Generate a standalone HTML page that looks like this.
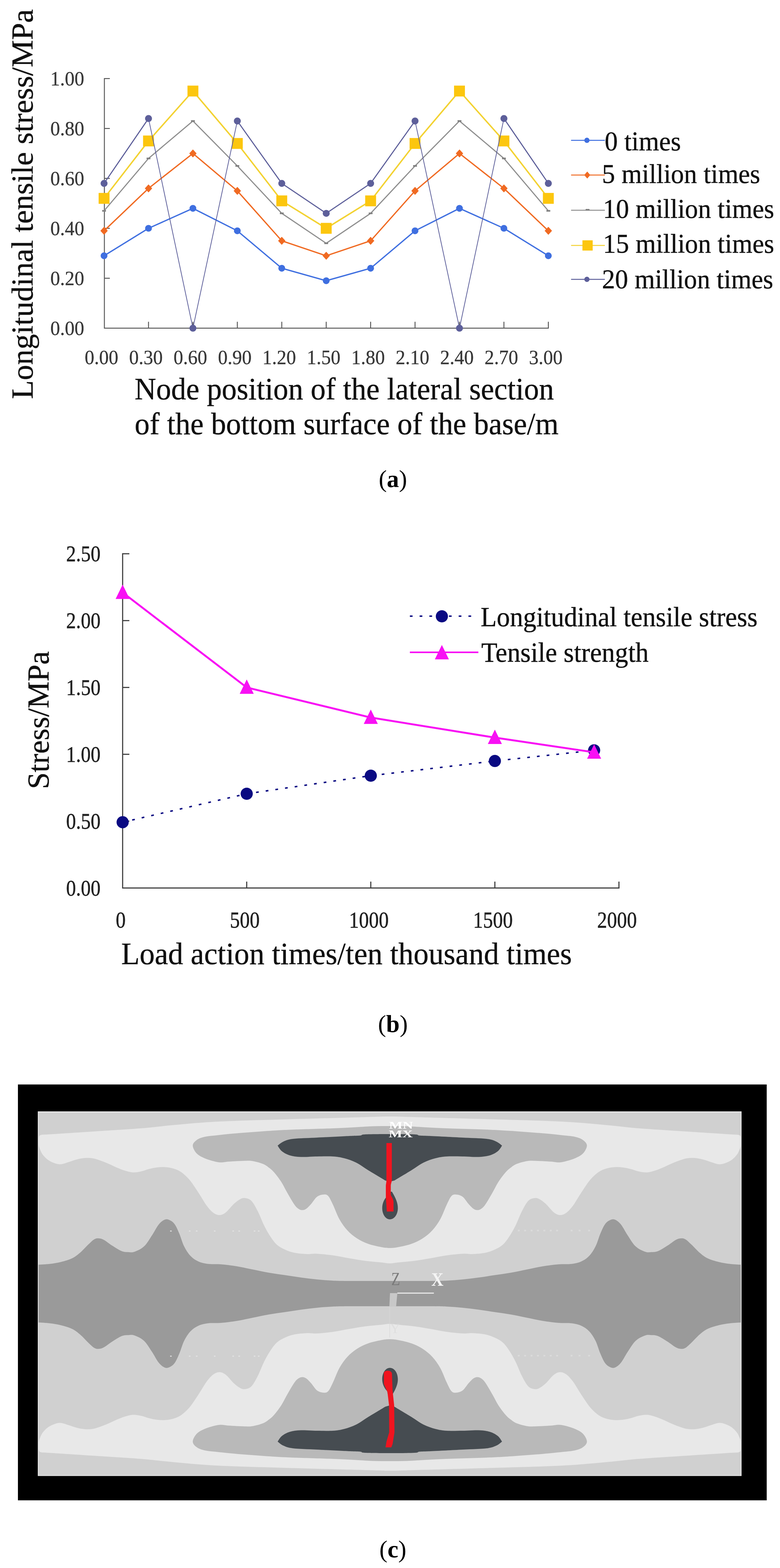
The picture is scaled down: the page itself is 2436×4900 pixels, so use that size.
<!DOCTYPE html>
<html lang="en"><head><meta charset="utf-8"><title>Figure</title>
<style>
html,body{margin:0;padding:0;background:#fff;}
body{width:2436px;height:4900px;overflow:hidden;}
svg{display:block;}
text{font-family:"Liberation Serif","DejaVu Serif",serif;}
</style></head>
<body>
<svg width="2436" height="4900" viewBox="0 0 2436 4900">
<rect x="0" y="0" width="2436" height="4900" fill="#ffffff"/>
<g id="chart-a">
<g stroke="#5c5c5c" stroke-width="3" fill="none">
<path d="M326.0,244.0 V1025.5 H1714.0"/>
<path d="M325.0,869.5 h18"/>
<path d="M325.0,713.5 h18"/>
<path d="M325.0,557.5 h18"/>
<path d="M325.0,401.5 h18"/>
<path d="M325.0,245.5 h18"/>
<path d="M463.8,1025.5 v-20"/>
<path d="M602.5,1025.5 v-20"/>
<path d="M741.2,1025.5 v-20"/>
<path d="M880.0,1025.5 v-20"/>
<path d="M1018.8,1025.5 v-20"/>
<path d="M1157.5,1025.5 v-20"/>
<path d="M1296.2,1025.5 v-20"/>
<path d="M1435.0,1025.5 v-20"/>
<path d="M1573.8,1025.5 v-20"/>
<path d="M1712.5,1025.5 v-20"/>
</g>
<text transform="translate(263.0,1046.5) scale(1,1.060)" font-size="60.5" fill="#383838" text-anchor="end" stroke="#383838" stroke-width="0.50">0.00</text>
<text transform="translate(263.0,890.5) scale(1,1.060)" font-size="60.5" fill="#383838" text-anchor="end" stroke="#383838" stroke-width="0.50">0.20</text>
<text transform="translate(263.0,734.5) scale(1,1.060)" font-size="60.5" fill="#383838" text-anchor="end" stroke="#383838" stroke-width="0.50">0.40</text>
<text transform="translate(263.0,578.5) scale(1,1.060)" font-size="60.5" fill="#383838" text-anchor="end" stroke="#383838" stroke-width="0.50">0.60</text>
<text transform="translate(263.0,422.5) scale(1,1.060)" font-size="60.5" fill="#383838" text-anchor="end" stroke="#383838" stroke-width="0.50">0.80</text>
<text transform="translate(263.0,266.5) scale(1,1.060)" font-size="60.5" fill="#383838" text-anchor="end" stroke="#383838" stroke-width="0.50">1.00</text>
<text transform="translate(317.0,1138.2) scale(1,1.060)" font-size="60.0" fill="#383838" text-anchor="middle" stroke="#383838" stroke-width="0.50">0.00</text>
<text transform="translate(455.8,1138.2) scale(1,1.060)" font-size="60.0" fill="#383838" text-anchor="middle" stroke="#383838" stroke-width="0.50">0.30</text>
<text transform="translate(594.5,1138.2) scale(1,1.060)" font-size="60.0" fill="#383838" text-anchor="middle" stroke="#383838" stroke-width="0.50">0.60</text>
<text transform="translate(733.2,1138.2) scale(1,1.060)" font-size="60.0" fill="#383838" text-anchor="middle" stroke="#383838" stroke-width="0.50">0.90</text>
<text transform="translate(872.0,1138.2) scale(1,1.060)" font-size="60.0" fill="#383838" text-anchor="middle" stroke="#383838" stroke-width="0.50">1.20</text>
<text transform="translate(1010.8,1138.2) scale(1,1.060)" font-size="60.0" fill="#383838" text-anchor="middle" stroke="#383838" stroke-width="0.50">1.50</text>
<text transform="translate(1149.5,1138.2) scale(1,1.060)" font-size="60.0" fill="#383838" text-anchor="middle" stroke="#383838" stroke-width="0.50">1.80</text>
<text transform="translate(1288.2,1138.2) scale(1,1.060)" font-size="60.0" fill="#383838" text-anchor="middle" stroke="#383838" stroke-width="0.50">2.10</text>
<text transform="translate(1427.0,1138.2) scale(1,1.060)" font-size="60.0" fill="#383838" text-anchor="middle" stroke="#383838" stroke-width="0.50">2.40</text>
<text transform="translate(1565.8,1138.2) scale(1,1.060)" font-size="60.0" fill="#383838" text-anchor="middle" stroke="#383838" stroke-width="0.50">2.70</text>
<text transform="translate(1704.5,1138.2) scale(1,1.060)" font-size="60.0" fill="#383838" text-anchor="middle" stroke="#383838" stroke-width="0.50">3.00</text>
<text transform="translate(102.0,1247.0) rotate(-90)" font-size="96.2" fill="#111" stroke="#111" stroke-width="0.60">Longitudinal tensile stress/MPa</text>
<text transform="translate(420.3,1248.2) scale(1,1.050)" font-size="93.4" fill="#111" stroke="#111" stroke-width="0.60">Node position of the lateral section</text>
<text transform="translate(420.5,1357.4) scale(1,1.050)" font-size="93.5" fill="#111" stroke="#111" stroke-width="0.60">of the bottom surface of the base/m</text>
<polyline points="325.0,799.3 463.8,713.5 602.5,651.1 741.2,721.3 880.0,838.3 1018.8,877.3 1157.5,838.3 1296.2,721.3 1435.0,651.1 1573.8,713.5 1712.5,799.3" fill="none" stroke="#3f6fe0" stroke-width="4" stroke-linejoin="round"/>
<circle cx="325.0" cy="799.3" r="10.6" fill="#3f6fe0"/>
<circle cx="463.8" cy="713.5" r="10.6" fill="#3f6fe0"/>
<circle cx="602.5" cy="651.1" r="10.6" fill="#3f6fe0"/>
<circle cx="741.2" cy="721.3" r="10.6" fill="#3f6fe0"/>
<circle cx="880.0" cy="838.3" r="10.6" fill="#3f6fe0"/>
<circle cx="1018.8" cy="877.3" r="10.6" fill="#3f6fe0"/>
<circle cx="1157.5" cy="838.3" r="10.6" fill="#3f6fe0"/>
<circle cx="1296.2" cy="721.3" r="10.6" fill="#3f6fe0"/>
<circle cx="1435.0" cy="651.1" r="10.6" fill="#3f6fe0"/>
<circle cx="1573.8" cy="713.5" r="10.6" fill="#3f6fe0"/>
<circle cx="1712.5" cy="799.3" r="10.6" fill="#3f6fe0"/>
<polyline points="325.0,721.3 463.8,588.7 602.5,479.5 741.2,596.5 880.0,752.5 1018.8,799.3 1157.5,752.5 1296.2,596.5 1435.0,479.5 1573.8,588.7 1712.5,721.3" fill="none" stroke="#f06a22" stroke-width="4" stroke-linejoin="round"/>
<path d="M325.0,709.8 l10.5,11.5 l-10.5,11.5 l-10.5,-11.5 Z" fill="#f06a22" stroke="#f06a22" stroke-width="1.5" stroke-linejoin="round"/>
<path d="M463.8,577.2 l10.5,11.5 l-10.5,11.5 l-10.5,-11.5 Z" fill="#f06a22" stroke="#f06a22" stroke-width="1.5" stroke-linejoin="round"/>
<path d="M602.5,468.0 l10.5,11.5 l-10.5,11.5 l-10.5,-11.5 Z" fill="#f06a22" stroke="#f06a22" stroke-width="1.5" stroke-linejoin="round"/>
<path d="M741.2,585.0 l10.5,11.5 l-10.5,11.5 l-10.5,-11.5 Z" fill="#f06a22" stroke="#f06a22" stroke-width="1.5" stroke-linejoin="round"/>
<path d="M880.0,741.0 l10.5,11.5 l-10.5,11.5 l-10.5,-11.5 Z" fill="#f06a22" stroke="#f06a22" stroke-width="1.5" stroke-linejoin="round"/>
<path d="M1018.8,787.8 l10.5,11.5 l-10.5,11.5 l-10.5,-11.5 Z" fill="#f06a22" stroke="#f06a22" stroke-width="1.5" stroke-linejoin="round"/>
<path d="M1157.5,741.0 l10.5,11.5 l-10.5,11.5 l-10.5,-11.5 Z" fill="#f06a22" stroke="#f06a22" stroke-width="1.5" stroke-linejoin="round"/>
<path d="M1296.2,585.0 l10.5,11.5 l-10.5,11.5 l-10.5,-11.5 Z" fill="#f06a22" stroke="#f06a22" stroke-width="1.5" stroke-linejoin="round"/>
<path d="M1435.0,468.0 l10.5,11.5 l-10.5,11.5 l-10.5,-11.5 Z" fill="#f06a22" stroke="#f06a22" stroke-width="1.5" stroke-linejoin="round"/>
<path d="M1573.8,577.2 l10.5,11.5 l-10.5,11.5 l-10.5,-11.5 Z" fill="#f06a22" stroke="#f06a22" stroke-width="1.5" stroke-linejoin="round"/>
<path d="M1712.5,709.8 l10.5,11.5 l-10.5,11.5 l-10.5,-11.5 Z" fill="#f06a22" stroke="#f06a22" stroke-width="1.5" stroke-linejoin="round"/>
<polyline points="325.0,658.9 463.8,495.1 602.5,378.1 741.2,518.5 880.0,666.7 1018.8,760.3 1157.5,666.7 1296.2,518.5 1435.0,378.1 1573.8,495.1 1712.5,658.9" fill="none" stroke="#8e8e8e" stroke-width="3.5" stroke-linejoin="round"/>
<rect x="319.0" y="656.4" width="12" height="5" fill="#808080"/>
<rect x="457.8" y="492.6" width="12" height="5" fill="#808080"/>
<rect x="596.5" y="375.6" width="12" height="5" fill="#808080"/>
<rect x="735.2" y="516.0" width="12" height="5" fill="#808080"/>
<rect x="874.0" y="664.2" width="12" height="5" fill="#808080"/>
<rect x="1012.8" y="757.8" width="12" height="5" fill="#808080"/>
<rect x="1151.5" y="664.2" width="12" height="5" fill="#808080"/>
<rect x="1290.2" y="516.0" width="12" height="5" fill="#808080"/>
<rect x="1429.0" y="375.6" width="12" height="5" fill="#808080"/>
<rect x="1567.8" y="492.6" width="12" height="5" fill="#808080"/>
<rect x="1706.5" y="656.4" width="12" height="5" fill="#808080"/>
<polyline points="325.0,619.9 463.8,440.5 602.5,284.5 741.2,448.3 880.0,627.7 1018.8,713.5 1157.5,627.7 1296.2,448.3 1435.0,284.5 1573.8,440.5 1712.5,619.9" fill="none" stroke="#f3d232" stroke-width="4.5" stroke-linejoin="round"/>
<rect x="308.0" y="602.9" width="34" height="34" fill="#fcc60e"/>
<rect x="446.8" y="423.5" width="34" height="34" fill="#fcc60e"/>
<rect x="585.5" y="267.5" width="34" height="34" fill="#fcc60e"/>
<rect x="724.2" y="431.3" width="34" height="34" fill="#fcc60e"/>
<rect x="863.0" y="610.7" width="34" height="34" fill="#fcc60e"/>
<rect x="1001.8" y="696.5" width="34" height="34" fill="#fcc60e"/>
<rect x="1140.5" y="610.7" width="34" height="34" fill="#fcc60e"/>
<rect x="1279.2" y="431.3" width="34" height="34" fill="#fcc60e"/>
<rect x="1418.0" y="267.5" width="34" height="34" fill="#fcc60e"/>
<rect x="1556.8" y="423.5" width="34" height="34" fill="#fcc60e"/>
<rect x="1695.5" y="602.9" width="34" height="34" fill="#fcc60e"/>
<path d="M325.0,573.1 L463.8,370.3" fill="none" stroke="#5d5f9a" stroke-width="3.4" stroke-linecap="round"/>
<path d="M463.8,370.3 L602.5,1025.5" fill="none" stroke="#5d5f9a" stroke-width="2.3" stroke-linecap="round"/>
<path d="M602.5,1025.5 L741.2,378.1" fill="none" stroke="#5d5f9a" stroke-width="2.3" stroke-linecap="round"/>
<path d="M741.2,378.1 L880.0,573.1" fill="none" stroke="#5d5f9a" stroke-width="3.4" stroke-linecap="round"/>
<path d="M880.0,573.1 L1018.8,666.7" fill="none" stroke="#5d5f9a" stroke-width="3.4" stroke-linecap="round"/>
<path d="M1018.8,666.7 L1157.5,573.1" fill="none" stroke="#5d5f9a" stroke-width="3.4" stroke-linecap="round"/>
<path d="M1157.5,573.1 L1296.2,378.1" fill="none" stroke="#5d5f9a" stroke-width="3.4" stroke-linecap="round"/>
<path d="M1296.2,378.1 L1435.0,1025.5" fill="none" stroke="#5d5f9a" stroke-width="2.3" stroke-linecap="round"/>
<path d="M1435.0,1025.5 L1573.8,370.3" fill="none" stroke="#5d5f9a" stroke-width="2.3" stroke-linecap="round"/>
<path d="M1573.8,370.3 L1712.5,573.1" fill="none" stroke="#5d5f9a" stroke-width="3.4" stroke-linecap="round"/>
<circle cx="325.0" cy="573.1" r="10.8" fill="#5d5f9a"/>
<circle cx="463.8" cy="370.3" r="10.8" fill="#5d5f9a"/>
<circle cx="602.5" cy="1025.5" r="10.8" fill="#5d5f9a"/>
<circle cx="741.2" cy="378.1" r="10.8" fill="#5d5f9a"/>
<circle cx="880.0" cy="573.1" r="10.8" fill="#5d5f9a"/>
<circle cx="1018.8" cy="666.7" r="10.8" fill="#5d5f9a"/>
<circle cx="1157.5" cy="573.1" r="10.8" fill="#5d5f9a"/>
<circle cx="1296.2" cy="378.1" r="10.8" fill="#5d5f9a"/>
<circle cx="1435.0" cy="1025.5" r="10.8" fill="#5d5f9a"/>
<circle cx="1573.8" cy="370.3" r="10.8" fill="#5d5f9a"/>
<circle cx="1712.5" cy="573.1" r="10.8" fill="#5d5f9a"/>
<path d="M1783.5,438.5 H1889" stroke="#3f6fe0" stroke-width="3.2"/>
<circle cx="1833" cy="438.5" r="8.2" fill="#3f6fe0"/>
<text transform="translate(1888.5,469.5) scale(1,1.040)" font-size="81.6" fill="#111" stroke="#111" stroke-width="0.60">0 times</text>
<path d="M1783.5,547.0 H1889" stroke="#f06a22" stroke-width="3.2"/>
<path d="M1834,536.0 l9.5,11 l-9.5,11 l-9.5,-11 Z" fill="#f06a22"/>
<text transform="translate(1880.0,572.0) scale(1,1.040)" font-size="81.6" fill="#111" stroke="#111" stroke-width="0.60">5 million times</text>
<path d="M1783.5,657.0 H1889" stroke="#8e8e8e" stroke-width="3.2"/>
<rect x="1829" y="653.0" width="12" height="5" fill="#808080"/>
<text transform="translate(1883.0,680.5) scale(1,1.040)" font-size="81.6" fill="#111" stroke="#111" stroke-width="0.60">10 million times</text>
<path d="M1783.5,767.0 H1889" stroke="#f3d232" stroke-width="3.2"/>
<rect x="1819" y="751.0" width="32" height="32" fill="#fcc60e"/>
<text transform="translate(1883.0,790.0) scale(1,1.040)" font-size="81.6" fill="#111" stroke="#111" stroke-width="0.60">15 million times</text>
<path d="M1783.5,873.0 H1889" stroke="#5d5f9a" stroke-width="3.2"/>
<circle cx="1833" cy="873.0" r="8.2" fill="#5d5f9a"/>
<text transform="translate(1880.0,901.0) scale(1,1.040)" font-size="81.6" fill="#111" stroke="#111" stroke-width="0.60">20 million times</text>
<text x="1227" y="1521.5" font-size="76" text-anchor="middle" fill="#000">(<tspan font-weight="bold">a</tspan>)</text>
</g>
<g id="chart-b">
<g stroke="#3c3c3c" stroke-width="3.4" fill="none">
<path d="M383.0,1728.8 V2775.0 H1934.7"/>
<path d="M383.0,2566.1 h21"/>
<path d="M383.0,2357.2 h21"/>
<path d="M383.0,2148.3 h21"/>
<path d="M383.0,1939.4 h21"/>
<path d="M383.0,1730.5 h21"/>
<path d="M770.5,2775.0 v-20"/>
<path d="M1158.0,2775.0 v-20"/>
<path d="M1545.5,2775.0 v-20"/>
<path d="M1933.0,2775.0 v-20"/>
</g>
<text transform="translate(314.0,2798.5) scale(1,1.120)" font-size="61.5" fill="#222" text-anchor="end" stroke="#222" stroke-width="0.70">0.00</text>
<text transform="translate(314.0,2589.6) scale(1,1.120)" font-size="61.5" fill="#222" text-anchor="end" stroke="#222" stroke-width="0.70">0.50</text>
<text transform="translate(314.0,2380.7) scale(1,1.120)" font-size="61.5" fill="#222" text-anchor="end" stroke="#222" stroke-width="0.70">1.00</text>
<text transform="translate(314.0,2171.8) scale(1,1.120)" font-size="61.5" fill="#222" text-anchor="end" stroke="#222" stroke-width="0.70">1.50</text>
<text transform="translate(314.0,1962.9) scale(1,1.120)" font-size="61.5" fill="#222" text-anchor="end" stroke="#222" stroke-width="0.70">2.00</text>
<text transform="translate(314.0,1754.0) scale(1,1.120)" font-size="61.5" fill="#222" text-anchor="end" stroke="#222" stroke-width="0.70">2.50</text>
<text transform="translate(377.0,2898.5) scale(1,1.150)" font-size="62.0" fill="#222" text-anchor="middle" stroke="#222" stroke-width="0.70">0</text>
<text transform="translate(764.5,2898.5) scale(1,1.150)" font-size="62.0" fill="#222" text-anchor="middle" stroke="#222" stroke-width="0.70">500</text>
<text transform="translate(1152.0,2898.5) scale(1,1.150)" font-size="62.0" fill="#222" text-anchor="middle" stroke="#222" stroke-width="0.70">1000</text>
<text transform="translate(1539.5,2898.5) scale(1,1.150)" font-size="62.0" fill="#222" text-anchor="middle" stroke="#222" stroke-width="0.70">1500</text>
<text transform="translate(1927.0,2898.5) scale(1,1.150)" font-size="62.0" fill="#222" text-anchor="middle" stroke="#222" stroke-width="0.70">2000</text>
<text transform="translate(152.0,2466.0) rotate(-90)" font-size="94.6" fill="#111" stroke="#111" stroke-width="0.60">Stress/MPa</text>
<text transform="translate(378.5,3012.8) scale(1,1.040)" font-size="94.2" fill="#111" stroke="#111" stroke-width="0.60">Load action times/ten thousand times</text>
<polyline points="383.0,2569.4 770.5,2480.5 1158.0,2424.0 1545.5,2378.1 1855.5,2344.7" fill="none" stroke="#0a0a82" stroke-width="4.6" stroke-dasharray="8.5 22"/>
<circle cx="383.0" cy="2569.4" r="19" fill="#0a0a82"/>
<circle cx="770.5" cy="2480.5" r="19" fill="#0a0a82"/>
<circle cx="1158.0" cy="2424.0" r="19" fill="#0a0a82"/>
<circle cx="1545.5" cy="2378.1" r="19" fill="#0a0a82"/>
<circle cx="1855.5" cy="2344.7" r="19" fill="#0a0a82"/>
<polyline points="383.0,1851.7 770.5,2148.3 1158.0,2242.3 1545.5,2305.0 1855.5,2350.9" fill="none" stroke="#f810f4" stroke-width="6" stroke-linejoin="round"/>
<path d="M383.0,1826.7 l22,45 h-44 Z" fill="#f810f4"/>
<path d="M770.5,2123.3 l22,45 h-44 Z" fill="#f810f4"/>
<path d="M1158.0,2217.3 l22,45 h-44 Z" fill="#f810f4"/>
<path d="M1545.5,2280.0 l22,45 h-44 Z" fill="#f810f4"/>
<path d="M1855.5,2325.9 l22,45 h-44 Z" fill="#f810f4"/>
<path d="M1280,1925.5 H1475" stroke="#0a0a82" stroke-width="4.6" stroke-dasharray="8.5 22" fill="none"/>
<circle cx="1380" cy="1926" r="19" fill="#0a0a82"/>
<path d="M1280,2038.5 H1494" stroke="#f810f4" stroke-width="5" fill="none"/>
<path d="M1380.0,2015.5 l22,45 h-44 Z" fill="#f810f4"/>
<text transform="translate(1501.0,1956.6) scale(1,1.040)" font-size="82.4" fill="#111" stroke="#111" stroke-width="0.60">Longitudinal tensile stress</text>
<text transform="translate(1503.0,2068.0) scale(1,1.040)" font-size="82.4" fill="#111" stroke="#111" stroke-width="0.60">Tensile strength</text>
<text x="1227" y="3225" font-size="76" text-anchor="middle" fill="#000">(<tspan font-weight="bold">b</tspan>)</text>
</g>
<g id="panel-c">
<rect x="56" y="3389" width="2338.5" height="1299.5" fill="#000"/>
<rect x="118.0" y="3473.0" width="2198.0" height="1139.5" fill="#e2e2e2"/>
<rect x="120.5" y="3477.0" width="2193.0" height="1132.5" fill="#d0d0d0"/>
<clipPath id="cin"><rect x="120.5" y="3477.0" width="2193.0" height="1132.5"/></clipPath>
<g clip-path="url(#cin)">
<g id="half">
<path d="M121.0,3556.0 C122.0,3554.5 120.5,3548.9 127.0,3547.0 C133.5,3545.1 132.8,3546.3 160.0,3544.5 C187.2,3542.7 243.3,3539.1 290.0,3536.0 C336.7,3532.9 398.3,3529.3 440.0,3526.0 C481.7,3522.7 500.0,3519.5 540.0,3516.0 C580.0,3512.5 621.7,3508.0 680.0,3505.0 C738.3,3502.0 813.3,3500.3 890.0,3498.0 C966.7,3495.7 1085.4,3492.5 1140.0,3491.0 C1194.6,3489.5 1191.7,3489.0 1217.5,3489.0 C1243.3,3489.0 1240.4,3489.5 1295.0,3491.0 C1349.6,3492.5 1468.3,3495.7 1545.0,3498.0 C1621.7,3500.3 1696.7,3502.0 1755.0,3505.0 C1813.3,3508.0 1855.0,3512.5 1895.0,3516.0 C1935.0,3519.5 1953.3,3522.7 1995.0,3526.0 C2036.7,3529.3 2098.3,3532.9 2145.0,3536.0 C2191.7,3539.1 2247.8,3542.7 2275.0,3544.5 C2302.2,3546.3 2301.5,3545.1 2308.0,3547.0 C2314.5,3548.9 2313.0,3554.5 2314.0,3556.0 L2314.0,3556.0 C2314.0,3559.7 2314.8,3571.7 2314.0,3578.0 C2313.2,3584.3 2311.2,3588.8 2309.0,3594.0 C2306.8,3599.2 2305.0,3603.9 2301.0,3609.0 C2297.0,3614.1 2291.0,3620.5 2285.0,3624.8 C2279.0,3629.1 2271.7,3632.6 2265.0,3634.8 C2258.3,3637.1 2252.5,3638.9 2245.0,3638.3 C2237.5,3637.7 2228.3,3633.8 2220.0,3631.3 C2211.7,3628.8 2203.3,3625.4 2195.0,3623.3 C2186.7,3621.2 2178.3,3619.4 2170.0,3618.8 C2161.7,3618.2 2153.3,3618.4 2145.0,3619.8 C2136.7,3621.2 2128.3,3624.4 2120.0,3627.3 C2111.7,3630.2 2103.3,3633.7 2095.0,3637.3 C2086.7,3640.9 2078.3,3645.3 2070.0,3648.8 C2061.7,3652.3 2053.3,3655.8 2045.0,3658.3 C2036.7,3660.8 2028.3,3663.4 2020.0,3663.8 C2011.7,3664.2 2003.3,3662.6 1995.0,3660.8 C1986.7,3659.1 1978.3,3655.4 1970.0,3653.3 C1961.7,3651.2 1953.3,3649.3 1945.0,3648.3 C1936.7,3647.3 1928.3,3646.8 1920.0,3647.3 C1911.7,3647.8 1903.3,3648.8 1895.0,3651.3 C1886.7,3653.8 1878.3,3656.7 1870.0,3662.3 C1861.7,3667.9 1852.5,3676.5 1845.0,3684.8 C1837.5,3693.1 1831.3,3703.0 1825.0,3712.2 C1818.7,3721.4 1812.8,3730.9 1807.0,3740.0 C1801.2,3749.1 1796.2,3758.8 1790.0,3767.0 C1783.8,3775.2 1776.7,3783.9 1770.0,3788.9 C1763.3,3793.9 1756.7,3797.0 1750.0,3797.0 C1743.3,3797.0 1737.5,3794.7 1730.0,3788.9 C1722.5,3783.2 1712.5,3769.4 1705.0,3762.5 C1697.5,3755.6 1690.8,3750.6 1685.0,3747.5 C1679.2,3744.4 1675.8,3743.2 1670.0,3744.0 C1664.2,3744.8 1656.7,3745.7 1650.0,3752.5 C1643.3,3759.3 1636.7,3772.1 1630.0,3785.0 C1623.3,3797.9 1616.7,3816.7 1610.0,3830.0 C1603.3,3843.3 1596.7,3855.0 1590.0,3865.0 C1583.3,3875.0 1577.5,3883.3 1570.0,3890.0 C1562.5,3896.7 1554.2,3900.8 1545.0,3905.0 C1535.8,3909.2 1526.7,3912.7 1515.0,3915.0 C1503.3,3917.3 1486.7,3918.5 1475.0,3919.0 C1463.3,3919.5 1458.3,3917.3 1445.0,3918.0 C1431.7,3918.7 1411.7,3920.7 1395.0,3923.0 C1378.3,3925.3 1361.7,3929.2 1345.0,3932.0 C1328.3,3934.8 1311.7,3937.8 1295.0,3940.0 C1278.3,3942.2 1257.9,3943.7 1245.0,3945.0 C1232.1,3946.3 1226.7,3948.0 1217.5,3948.0 C1208.3,3948.0 1202.9,3946.3 1190.0,3945.0 C1177.1,3943.7 1156.7,3942.2 1140.0,3940.0 C1123.3,3937.8 1106.7,3934.8 1090.0,3932.0 C1073.3,3929.2 1056.7,3925.3 1040.0,3923.0 C1023.3,3920.7 1003.3,3918.7 990.0,3918.0 C976.7,3917.3 971.7,3919.5 960.0,3919.0 C948.3,3918.5 931.7,3917.3 920.0,3915.0 C908.3,3912.7 899.2,3909.2 890.0,3905.0 C880.8,3900.8 872.5,3896.7 865.0,3890.0 C857.5,3883.3 851.7,3875.0 845.0,3865.0 C838.3,3855.0 831.7,3843.3 825.0,3830.0 C818.3,3816.7 811.7,3797.9 805.0,3785.0 C798.3,3772.1 791.7,3759.3 785.0,3752.5 C778.3,3745.7 770.8,3744.8 765.0,3744.0 C759.2,3743.2 755.8,3744.4 750.0,3747.5 C744.2,3750.6 737.5,3755.6 730.0,3762.5 C722.5,3769.4 712.5,3783.2 705.0,3788.9 C697.5,3794.7 691.7,3797.0 685.0,3797.0 C678.3,3797.0 671.7,3793.9 665.0,3788.9 C658.3,3783.9 651.2,3775.2 645.0,3767.0 C638.8,3758.8 633.8,3749.1 628.0,3740.0 C622.2,3730.9 616.3,3721.4 610.0,3712.2 C603.7,3703.0 597.5,3693.1 590.0,3684.8 C582.5,3676.5 573.3,3667.9 565.0,3662.3 C556.7,3656.7 548.3,3653.8 540.0,3651.3 C531.7,3648.8 523.3,3647.8 515.0,3647.3 C506.7,3646.8 498.3,3647.3 490.0,3648.3 C481.7,3649.3 473.3,3651.2 465.0,3653.3 C456.7,3655.4 448.3,3659.1 440.0,3660.8 C431.7,3662.6 423.3,3664.2 415.0,3663.8 C406.7,3663.4 398.3,3660.8 390.0,3658.3 C381.7,3655.8 373.3,3652.3 365.0,3648.8 C356.7,3645.3 348.3,3640.9 340.0,3637.3 C331.7,3633.7 323.3,3630.2 315.0,3627.3 C306.7,3624.4 298.3,3621.2 290.0,3619.8 C281.7,3618.4 273.3,3618.2 265.0,3618.8 C256.7,3619.4 248.3,3621.2 240.0,3623.3 C231.7,3625.4 223.3,3628.8 215.0,3631.3 C206.7,3633.8 197.5,3637.7 190.0,3638.3 C182.5,3638.9 176.7,3637.1 170.0,3634.8 C163.3,3632.6 156.0,3629.1 150.0,3624.8 C144.0,3620.5 138.0,3614.1 134.0,3609.0 C130.0,3603.9 128.2,3599.2 126.0,3594.0 C123.8,3588.8 121.8,3584.3 121.0,3578.0 C120.2,3571.7 121.0,3559.7 121.0,3556.0 Z" fill="#e8e8e8"/>
<path d="M602.0,3580.0 C602.0,3572.9 608.2,3567.0 614.5,3562.4 C620.8,3557.8 628.6,3554.9 639.5,3552.4 C650.4,3549.9 663.2,3549.2 680.0,3547.4 C696.8,3545.6 713.3,3543.7 740.0,3541.5 C766.7,3539.3 810.8,3535.9 840.0,3534.0 C869.2,3532.1 881.7,3531.3 915.0,3530.0 C948.3,3528.7 1005.8,3527.3 1040.0,3526.0 C1074.2,3524.7 1099.2,3523.1 1120.0,3522.0 C1140.8,3520.9 1148.8,3520.0 1165.0,3519.5 C1181.2,3519.0 1200.0,3519.0 1217.5,3519.0 C1235.0,3519.0 1253.8,3519.0 1270.0,3519.5 C1286.2,3520.0 1294.2,3520.9 1315.0,3522.0 C1335.8,3523.1 1360.8,3524.7 1395.0,3526.0 C1429.2,3527.3 1486.7,3528.7 1520.0,3530.0 C1553.3,3531.3 1565.8,3532.1 1595.0,3534.0 C1624.2,3535.9 1668.3,3539.3 1695.0,3541.5 C1721.7,3543.7 1738.2,3545.6 1755.0,3547.4 C1771.8,3549.2 1784.6,3549.9 1795.5,3552.4 C1806.4,3554.9 1814.2,3557.8 1820.5,3562.4 C1826.8,3567.0 1833.0,3572.9 1833.0,3580.0 C1833.0,3587.1 1826.8,3598.2 1820.5,3604.8 C1814.2,3611.4 1804.8,3615.7 1795.5,3619.8 C1786.2,3623.9 1773.4,3627.4 1765.0,3629.5 C1756.6,3631.6 1752.5,3632.4 1745.0,3632.5 C1737.5,3632.6 1732.5,3630.8 1720.0,3630.0 C1707.5,3629.2 1682.5,3627.8 1670.0,3627.5 C1657.5,3627.2 1654.5,3626.8 1645.0,3628.5 C1635.5,3630.2 1621.3,3634.1 1613.0,3637.5 C1604.7,3640.9 1600.7,3644.7 1595.0,3649.0 C1589.3,3653.3 1585.4,3656.2 1579.0,3663.6 C1572.6,3671.0 1563.3,3683.0 1556.5,3693.6 C1549.7,3704.2 1544.9,3715.1 1538.0,3727.0 C1531.1,3738.9 1521.3,3756.3 1515.3,3764.8 C1509.3,3773.3 1506.2,3775.2 1502.0,3778.0 C1497.8,3780.8 1494.0,3781.8 1490.0,3781.6 C1486.0,3781.4 1482.5,3780.3 1478.0,3777.0 C1473.5,3773.7 1468.5,3768.2 1463.0,3762.0 C1457.5,3755.8 1451.3,3744.8 1445.0,3740.0 C1438.7,3735.2 1430.8,3733.4 1425.0,3733.0 C1419.2,3732.6 1415.0,3732.2 1410.0,3737.5 C1405.0,3742.8 1400.8,3752.9 1395.0,3765.0 C1389.2,3777.1 1382.5,3796.7 1375.0,3810.0 C1367.5,3823.3 1359.2,3835.0 1350.0,3845.0 C1340.8,3855.0 1330.8,3863.0 1320.0,3870.0 C1309.2,3877.0 1297.5,3882.5 1285.0,3887.0 C1272.5,3891.5 1256.2,3894.8 1245.0,3897.0 C1233.8,3899.2 1226.7,3900.0 1217.5,3900.0 C1208.3,3900.0 1201.2,3899.2 1190.0,3897.0 C1178.8,3894.8 1162.5,3891.5 1150.0,3887.0 C1137.5,3882.5 1125.8,3877.0 1115.0,3870.0 C1104.2,3863.0 1094.2,3855.0 1085.0,3845.0 C1075.8,3835.0 1067.5,3823.3 1060.0,3810.0 C1052.5,3796.7 1045.8,3777.1 1040.0,3765.0 C1034.2,3752.9 1030.0,3742.8 1025.0,3737.5 C1020.0,3732.2 1015.8,3732.6 1010.0,3733.0 C1004.2,3733.4 996.3,3735.2 990.0,3740.0 C983.7,3744.8 977.5,3755.8 972.0,3762.0 C966.5,3768.2 961.5,3773.7 957.0,3777.0 C952.5,3780.3 949.0,3781.4 945.0,3781.6 C941.0,3781.8 937.2,3780.8 933.0,3778.0 C928.8,3775.2 925.7,3773.3 919.7,3764.8 C913.7,3756.3 903.9,3738.9 897.0,3727.0 C890.1,3715.1 885.3,3704.2 878.5,3693.6 C871.7,3683.0 862.4,3671.0 856.0,3663.6 C849.6,3656.2 845.7,3653.3 840.0,3649.0 C834.3,3644.7 830.3,3640.9 822.0,3637.5 C813.7,3634.1 799.5,3630.2 790.0,3628.5 C780.5,3626.8 777.5,3627.2 765.0,3627.5 C752.5,3627.8 727.5,3629.2 715.0,3630.0 C702.5,3630.8 697.5,3632.6 690.0,3632.5 C682.5,3632.4 678.4,3631.6 670.0,3629.5 C661.6,3627.4 648.8,3623.9 639.5,3619.8 C630.2,3615.7 620.8,3611.4 614.5,3604.8 C608.2,3598.2 602.0,3587.1 602.0,3580.0 Z" fill="#b9b9b9"/>
<path d="M867.0,3580.0 C870.0,3577.9 877.0,3570.9 885.0,3567.4 C893.0,3563.9 897.5,3561.1 915.0,3559.0 C932.5,3556.9 960.8,3556.5 990.0,3555.0 C1019.2,3553.5 1067.5,3551.1 1090.0,3550.0 C1112.5,3548.9 1116.7,3549.3 1125.0,3548.5 C1133.3,3547.7 1124.6,3545.8 1140.0,3545.0 C1155.4,3544.2 1191.7,3544.0 1217.5,3544.0 C1243.3,3544.0 1279.6,3544.2 1295.0,3545.0 C1310.4,3545.8 1301.7,3547.7 1310.0,3548.5 C1318.3,3549.3 1322.5,3548.9 1345.0,3550.0 C1367.5,3551.1 1415.8,3553.5 1445.0,3555.0 C1474.2,3556.5 1502.5,3556.9 1520.0,3559.0 C1537.5,3561.1 1542.0,3563.9 1550.0,3567.4 C1558.0,3570.9 1565.0,3577.9 1568.0,3580.0 C1565.8,3582.9 1561.3,3592.2 1555.0,3597.3 C1548.7,3602.4 1540.0,3607.5 1530.0,3610.5 C1520.0,3613.5 1509.2,3614.9 1495.0,3615.5 C1480.8,3616.1 1461.7,3614.2 1445.0,3614.0 C1428.3,3613.8 1409.2,3613.1 1395.0,3614.0 C1380.8,3614.9 1372.0,3616.3 1360.0,3619.5 C1348.0,3622.7 1335.5,3626.8 1323.0,3633.0 C1310.5,3639.2 1297.2,3649.5 1285.0,3657.0 C1272.8,3664.5 1258.8,3672.7 1250.0,3678.0 C1241.2,3683.3 1235.0,3687.2 1232.0,3689.0 L1216.5,3693.0 L1203.0,3689.0 C1200.0,3687.2 1193.8,3683.3 1185.0,3678.0 C1176.2,3672.7 1162.2,3664.5 1150.0,3657.0 C1137.8,3649.5 1124.5,3639.2 1112.0,3633.0 C1099.5,3626.8 1087.0,3622.7 1075.0,3619.5 C1063.0,3616.3 1054.2,3614.9 1040.0,3614.0 C1025.8,3613.1 1006.7,3613.8 990.0,3614.0 C973.3,3614.2 954.2,3616.1 940.0,3615.5 C925.8,3614.9 915.0,3613.5 905.0,3610.5 C895.0,3607.5 886.3,3602.4 880.0,3597.3 C873.7,3592.2 869.2,3582.9 867.0,3580.0 Z" fill="#464c51"/>
<path d="M1209,3738 C1199,3748 1193.5,3762 1193.7,3776 C1194,3796 1205,3810.5 1217.5,3810.5 C1231,3810.5 1242.2,3796 1242.5,3776 C1243,3760 1236,3744 1224,3724 L1212,3724 Z" fill="#464c51"/>
</g>
<use href="#half" transform="translate(0,8085.0) scale(1,-1)"/>
<path d="M118.0,3952.3 C124.2,3951.9 143.0,3951.2 155.0,3949.8 C167.0,3948.4 178.3,3946.7 190.0,3943.8 C201.7,3940.9 215.0,3937.1 225.0,3932.3 C235.0,3927.5 241.7,3921.9 250.0,3914.8 C258.3,3907.7 267.5,3896.9 275.0,3889.8 C282.5,3882.7 289.2,3875.7 295.0,3872.4 C300.8,3869.1 305.0,3869.5 310.0,3869.9 C315.0,3870.3 318.3,3871.2 325.0,3874.9 C331.7,3878.6 340.8,3886.5 350.0,3892.3 C359.2,3898.1 371.7,3906.4 380.0,3909.8 C388.3,3913.2 393.3,3912.5 400.0,3912.8 C406.7,3913.1 411.7,3914.8 420.0,3911.8 C428.3,3908.8 440.8,3903.5 450.0,3894.8 C459.2,3886.2 467.5,3871.1 475.0,3859.9 C482.5,3848.7 488.7,3835.4 495.0,3827.4 C501.3,3819.4 507.5,3814.6 513.0,3812.0 C518.5,3809.4 522.7,3809.8 528.0,3812.0 C533.3,3814.2 539.7,3817.8 545.0,3824.9 C550.3,3832.1 555.0,3843.2 560.0,3854.9 C565.0,3866.6 569.2,3883.2 575.0,3894.8 C580.8,3906.5 587.5,3916.9 595.0,3924.8 C602.5,3932.7 610.8,3938.1 620.0,3942.3 C629.2,3946.5 638.3,3948.4 650.0,3949.8 C661.7,3951.2 675.0,3949.8 690.0,3951.0 C705.0,3952.2 723.3,3954.6 740.0,3957.3 C756.7,3960.0 773.3,3964.0 790.0,3967.3 C806.7,3970.6 823.3,3974.4 840.0,3977.3 C856.7,3980.2 873.3,3982.3 890.0,3984.8 C906.7,3987.3 923.3,3990.1 940.0,3992.3 C956.7,3994.6 973.3,3996.7 990.0,3998.3 C1006.7,3999.9 1023.3,4001.2 1040.0,4002.0 C1056.7,4002.8 1060.4,4002.8 1090.0,4003.0 C1119.6,4003.2 1175.0,4003.0 1217.5,4003.0 C1260.0,4003.0 1315.4,4003.2 1345.0,4003.0 C1374.6,4002.8 1378.3,4002.8 1395.0,4002.0 C1411.7,4001.2 1428.3,3999.9 1445.0,3998.3 C1461.7,3996.7 1478.3,3994.6 1495.0,3992.3 C1511.7,3990.1 1528.3,3987.3 1545.0,3984.8 C1561.7,3982.3 1578.3,3980.2 1595.0,3977.3 C1611.7,3974.4 1628.3,3970.6 1645.0,3967.3 C1661.7,3964.0 1678.3,3960.0 1695.0,3957.3 C1711.7,3954.6 1730.0,3952.2 1745.0,3951.0 C1760.0,3949.8 1773.3,3951.2 1785.0,3949.8 C1796.7,3948.4 1805.8,3946.5 1815.0,3942.3 C1824.2,3938.1 1832.5,3932.7 1840.0,3924.8 C1847.5,3916.9 1854.2,3906.5 1860.0,3894.8 C1865.8,3883.2 1870.0,3866.6 1875.0,3854.9 C1880.0,3843.2 1884.7,3832.1 1890.0,3824.9 C1895.3,3817.8 1901.7,3814.2 1907.0,3812.0 C1912.3,3809.8 1916.5,3809.4 1922.0,3812.0 C1927.5,3814.6 1933.7,3819.4 1940.0,3827.4 C1946.3,3835.4 1952.5,3848.7 1960.0,3859.9 C1967.5,3871.1 1975.8,3886.2 1985.0,3894.8 C1994.2,3903.5 2006.7,3908.8 2015.0,3911.8 C2023.3,3914.8 2028.3,3913.1 2035.0,3912.8 C2041.7,3912.5 2046.7,3913.2 2055.0,3909.8 C2063.3,3906.4 2075.8,3898.1 2085.0,3892.3 C2094.2,3886.5 2103.3,3878.6 2110.0,3874.9 C2116.7,3871.2 2120.0,3870.3 2125.0,3869.9 C2130.0,3869.5 2134.2,3869.1 2140.0,3872.4 C2145.8,3875.7 2152.5,3882.7 2160.0,3889.8 C2167.5,3896.9 2176.7,3907.7 2185.0,3914.8 C2193.3,3921.9 2200.0,3927.5 2210.0,3932.3 C2220.0,3937.1 2233.3,3940.9 2245.0,3943.8 C2256.7,3946.7 2268.0,3948.4 2280.0,3949.8 C2292.0,3951.2 2310.8,3951.9 2317.0,3952.3 L2317.0,4132.7 C2310.8,4133.1 2292.0,4133.8 2280.0,4135.2 C2268.0,4136.6 2256.7,4138.3 2245.0,4141.2 C2233.3,4144.1 2220.0,4147.9 2210.0,4152.7 C2200.0,4157.5 2193.3,4163.1 2185.0,4170.2 C2176.7,4177.3 2167.5,4188.1 2160.0,4195.2 C2152.5,4202.3 2145.8,4209.3 2140.0,4212.6 C2134.2,4215.9 2130.0,4215.5 2125.0,4215.1 C2120.0,4214.7 2116.7,4213.8 2110.0,4210.1 C2103.3,4206.4 2094.2,4198.5 2085.0,4192.7 C2075.8,4186.9 2063.3,4178.6 2055.0,4175.2 C2046.7,4171.8 2041.7,4172.5 2035.0,4172.2 C2028.3,4171.9 2023.3,4170.2 2015.0,4173.2 C2006.7,4176.2 1994.2,4181.5 1985.0,4190.2 C1975.8,4198.9 1967.5,4213.9 1960.0,4225.1 C1952.5,4236.3 1946.3,4249.6 1940.0,4257.6 C1933.7,4265.6 1927.5,4270.4 1922.0,4273.0 C1916.5,4275.6 1912.3,4275.1 1907.0,4273.0 C1901.7,4270.9 1895.3,4267.2 1890.0,4260.1 C1884.7,4253.0 1880.0,4241.8 1875.0,4230.1 C1870.0,4218.5 1865.8,4201.9 1860.0,4190.2 C1854.2,4178.5 1847.5,4168.1 1840.0,4160.2 C1832.5,4152.3 1824.2,4146.9 1815.0,4142.7 C1805.8,4138.5 1796.7,4136.6 1785.0,4135.2 C1773.3,4133.8 1760.0,4135.2 1745.0,4134.0 C1730.0,4132.8 1711.7,4130.4 1695.0,4127.7 C1678.3,4125.0 1661.7,4121.0 1645.0,4117.7 C1628.3,4114.4 1611.7,4110.6 1595.0,4107.7 C1578.3,4104.8 1561.7,4102.7 1545.0,4100.2 C1528.3,4097.7 1511.7,4094.9 1495.0,4092.7 C1478.3,4090.4 1461.7,4088.3 1445.0,4086.7 C1428.3,4085.1 1411.7,4083.8 1395.0,4083.0 C1378.3,4082.2 1374.6,4082.2 1345.0,4082.0 C1315.4,4081.8 1260.0,4082.0 1217.5,4082.0 C1175.0,4082.0 1119.6,4081.8 1090.0,4082.0 C1060.4,4082.2 1056.7,4082.2 1040.0,4083.0 C1023.3,4083.8 1006.7,4085.1 990.0,4086.7 C973.3,4088.3 956.7,4090.4 940.0,4092.7 C923.3,4094.9 906.7,4097.7 890.0,4100.2 C873.3,4102.7 856.7,4104.8 840.0,4107.7 C823.3,4110.6 806.7,4114.4 790.0,4117.7 C773.3,4121.0 756.7,4125.0 740.0,4127.7 C723.3,4130.4 705.0,4132.8 690.0,4134.0 C675.0,4135.2 661.7,4133.8 650.0,4135.2 C638.3,4136.6 629.2,4138.5 620.0,4142.7 C610.8,4146.9 602.5,4152.3 595.0,4160.2 C587.5,4168.1 580.8,4178.5 575.0,4190.2 C569.2,4201.9 565.0,4218.5 560.0,4230.1 C555.0,4241.8 550.3,4253.0 545.0,4260.1 C539.7,4267.2 533.3,4270.9 528.0,4273.0 C522.7,4275.1 518.5,4275.6 513.0,4273.0 C507.5,4270.4 501.3,4265.6 495.0,4257.6 C488.7,4249.6 482.5,4236.3 475.0,4225.1 C467.5,4213.9 459.2,4198.9 450.0,4190.2 C440.8,4181.5 428.3,4176.2 420.0,4173.2 C411.7,4170.2 406.7,4171.9 400.0,4172.2 C393.3,4172.5 388.3,4171.8 380.0,4175.2 C371.7,4178.6 359.2,4186.9 350.0,4192.7 C340.8,4198.5 331.7,4206.4 325.0,4210.1 C318.3,4213.8 315.0,4214.7 310.0,4215.1 C305.0,4215.5 300.8,4215.9 295.0,4212.6 C289.2,4209.3 282.5,4202.3 275.0,4195.2 C267.5,4188.1 258.3,4177.3 250.0,4170.2 C241.7,4163.1 235.0,4157.5 225.0,4152.7 C215.0,4147.9 201.7,4144.1 190.0,4141.2 C178.3,4138.3 167.0,4136.6 155.0,4135.2 C143.0,4133.8 124.2,4133.1 118.0,4132.7 Z" fill="#9a9a9a"/>
<rect x="531.2" y="3845.5" width="5" height="3" fill="#e4e4e4"/>
<rect x="589.9" y="3845.5" width="5" height="3" fill="#e4e4e4"/>
<rect x="611.8" y="3845.5" width="5" height="3" fill="#e4e4e4"/>
<rect x="668.0" y="3845.5" width="5" height="3" fill="#e4e4e4"/>
<rect x="725.7" y="3845.5" width="5" height="3" fill="#e4e4e4"/>
<rect x="744.5" y="3845.5" width="5" height="3" fill="#e4e4e4"/>
<rect x="792.5" y="3845.5" width="5" height="3" fill="#e4e4e4"/>
<rect x="805.5" y="3845.5" width="5" height="3" fill="#e4e4e4"/>
<rect x="1617.0" y="3843.0" width="6" height="5" fill="#dadada"/>
<rect x="1637.0" y="3843.0" width="6" height="5" fill="#dadada"/>
<rect x="1657.0" y="3843.0" width="6" height="5" fill="#dadada"/>
<rect x="1677.0" y="3843.0" width="6" height="5" fill="#dadada"/>
<rect x="1697.0" y="3843.0" width="6" height="5" fill="#dadada"/>
<rect x="1717.0" y="3843.0" width="6" height="5" fill="#dadada"/>
<rect x="1737.0" y="3843.0" width="6" height="5" fill="#dadada"/>
<rect x="1782.0" y="3843.0" width="6" height="5" fill="#dadada"/>
<rect x="1807.0" y="3843.0" width="6" height="5" fill="#dadada"/>
<rect x="1837.0" y="3843.0" width="6" height="5" fill="#dadada"/>
<rect x="531.2" y="4236.5" width="5" height="3" fill="#e4e4e4"/>
<rect x="589.9" y="4236.5" width="5" height="3" fill="#e4e4e4"/>
<rect x="611.8" y="4236.5" width="5" height="3" fill="#e4e4e4"/>
<rect x="668.0" y="4236.5" width="5" height="3" fill="#e4e4e4"/>
<rect x="725.7" y="4236.5" width="5" height="3" fill="#e4e4e4"/>
<rect x="744.5" y="4236.5" width="5" height="3" fill="#e4e4e4"/>
<rect x="792.5" y="4236.5" width="5" height="3" fill="#e4e4e4"/>
<rect x="805.5" y="4236.5" width="5" height="3" fill="#e4e4e4"/>
<rect x="1617.0" y="4234.0" width="6" height="5" fill="#dadada"/>
<rect x="1637.0" y="4234.0" width="6" height="5" fill="#dadada"/>
<rect x="1657.0" y="4234.0" width="6" height="5" fill="#dadada"/>
<rect x="1677.0" y="4234.0" width="6" height="5" fill="#dadada"/>
<rect x="1697.0" y="4234.0" width="6" height="5" fill="#dadada"/>
<rect x="1717.0" y="4234.0" width="6" height="5" fill="#dadada"/>
<rect x="1737.0" y="4234.0" width="6" height="5" fill="#dadada"/>
<rect x="1782.0" y="4234.0" width="6" height="5" fill="#dadada"/>
<rect x="1807.0" y="4234.0" width="6" height="5" fill="#dadada"/>
<rect x="1837.0" y="4234.0" width="6" height="5" fill="#dadada"/>
<path d="M1206.8,3572 H1223.7 V3690 C1222,3698 1220.5,3700 1220.5,3706 V3734 C1224,3742 1229,3748 1229,3756 V3786 H1208 L1205,3740 V3706 C1205,3700 1206.8,3696 1206.8,3690 Z" fill="#f0141f"/>
<path d="M1199,4290 C1200,4282 1222,4280 1224,4292 L1226,4345 L1231,4392 L1232,4476 L1226,4513 L1222,4523 H1204 L1207,4505 L1215.5,4476 L1215,4392 L1210,4350 L1199,4325 Z" fill="#f0141f"/>
<g font-size="31" font-weight="bold" fill="#ffffff">
<text transform="translate(1215,3527) scale(1.45,1)">MN</text>
<text transform="translate(1214,3553.5) scale(1.45,1)">MX</text>
</g>
<text transform="translate(1222,4016) scale(0.78,1)" font-size="58" fill="#7a7a7a">Z</text>
<text transform="translate(1347,4018) scale(0.88,1)" font-size="60" font-weight="bold" fill="#f4f4f4">X</text>
<path d="M1241,4041 H1355" stroke="#f4f4f4" stroke-width="3"/>
<path d="M1218,4041 L1241,4041 L1237,4083 L1216,4083 Z" fill="#c8c8c8"/>
<path d="M1217,4083 V4180" stroke="#d8d8d8" stroke-width="1.5"/>
<text x="1218" y="4166" font-size="44" fill="#dcdcdc" opacity="0.7">Y</text>
</g>
<text x="1227" y="4867" font-size="76" text-anchor="middle" fill="#000">(<tspan font-weight="bold">c</tspan>)</text>
</g>
</svg>
</body></html>
